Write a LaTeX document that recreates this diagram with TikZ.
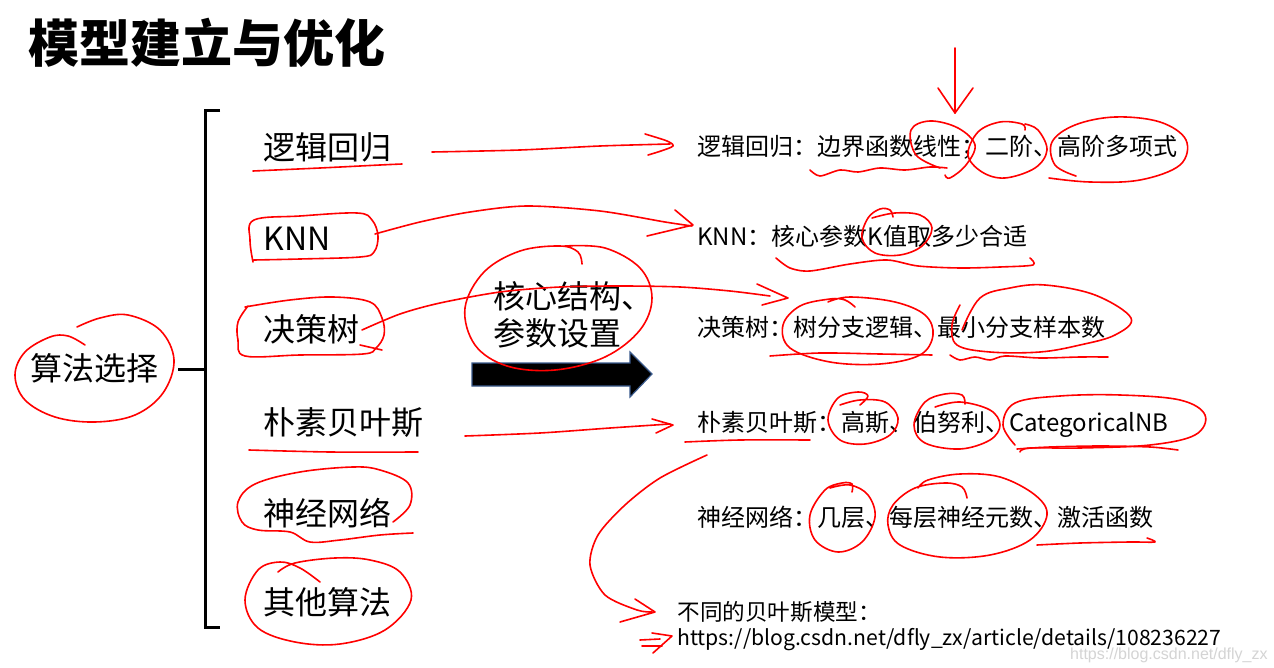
\documentclass[tikz,border=0pt]{standalone}
\usepackage{fontspec}
\setmainfont{Noto Sans CJK SC}
\newfontfamily\wmfont{Liberation Sans}
\definecolor{arrowblue}{HTML}{3A5A8C}
\definecolor{wmgray}{HTML}{D4D4D4}
\begin{document}
\begin{tikzpicture}[x=0.5pt,y=-0.5pt,
  hand/.style={draw=red, line width=0.8pt, line cap=round, line join=round},
  item/.style={anchor=base west, inner sep=0pt, font=\fontsize{16}{19}\selectfont},
  desc/.style={anchor=base west, inner sep=0pt, font=\fontsize{12}{14}\selectfont},
  note/.style={anchor=base west, inner sep=0pt, font=\fontsize{11.3}{13}\selectfont},
  brk/.style={draw=black, line width=1.5pt, line join=miter}]
\fill[white] (0,0) rectangle (1274,668);
\useasboundingbox (0,0) rectangle (1274,668);

% title
\node[anchor=base west, inner sep=0pt, font=\bfseries\fontsize{25.5}{30}\selectfont] (title) at (28,63) {模型建立与优化};

% left part
\node[item] (algo) at (30,380) {算法选择};
\node[item] (lr) at (263,160) {逻辑回归};
\node[item] (knn) at (263,250) {KNN};
\node[item] (dt) at (263,342) {决策树};
\node[item] (nb) at (263,434) {朴素贝叶斯};
\node[item] (nn) at (263,525) {神经网络};
\node[item] (other) at (263,614) {其他算法};

% bracket
\coordinate (btop) at (205,111);
\coordinate (bbot) at (205,627);
\coordinate (bmid) at (205,369);
\draw[brk] (220,111) -- (btop) -- (bbot) -- (220,627);
\draw[brk] (178,369) -- (bmid);

% center
\node[item] (core1) at (493,308) {核心结构、};
\node[item] (core2) at (493,345) {参数设置};
\fill[black, draw=arrowblue, line width=0.6pt] (472,363) -- (630,363) -- (630,352) -- (652,374) -- (630,397) -- (630,386) -- (472,386) -- cycle;

% right column
\node[desc] (d1) at (697,156) {逻辑回归：边界函数线性；二阶、高阶多项式};
\node[desc] (d2) at (697,246) {KNN：核心参数K值取多少合适};
\node[desc] (d3) at (697,336) {决策树：树分支逻辑、最小分支样本数};
\node[desc] (d4) at (697,431) {朴素贝叶斯：高斯、伯努利、CategoricalNB};
\node[desc] (d5) at (697,526) {神经网络：几层、每层神经元数、激活函数};
\node[note] (n1) at (677,620) {不同的贝叶斯模型：};
\node[anchor=base west, inner sep=0pt, font=\fontsize{10.6}{12}\selectfont] (n2) at (677,645) {https://blog.csdn.net/dfly\_zx/article/details/108236227};
\node[anchor=base east, inner sep=0pt, text=wmgray, font=\wmfont\fontsize{8}{9}\selectfont] (wm) at (1268,659) {https://blog.csdn.net/dfly\_zx};

% ---------- red annotations ----------
% 算法选择 loop
\draw[hand] plot[smooth, tension=0.6] coordinates {(85,345) (68,336) (50,337) (25,352) (15,375) (25,400) (55,417) (95,422) (135,415) (163,393) (174,360) (160,330) (128,315) (100,318) (77,327)};
% 逻辑回归 underline + arrow
\draw[hand] plot[smooth] coordinates {(253,171) (320,168) (380,165) (402,164)};
\draw[hand] plot[smooth] coordinates {(432,152) (520,150) (600,146) (670,144)};
\draw[hand] plot[smooth, tension=0.5] coordinates {(645,134) (667,141) (673,146) (661,151) (648,155)};
% KNN loop + arrow
\draw[hand] plot[smooth, tension=0.6] coordinates {(253,262) (250,240) (254,220) (300,216) (357,213) (372,220) (378,236) (374,252) (360,257) (300,259) (254,260)};
\draw[hand] plot[smooth] coordinates {(375,234) (420,222) (470,212) (527,206) (600,211) (665,222) (692,226)};
\draw[hand] (675,210) -- (693,225) -- (647,236);
% 决策树 loop + arrow
\draw[hand] plot[smooth, tension=0.6] coordinates {(245,307) (290,300) (333,297) (370,302) (382,318) (384,335) (376,348) (363,354) (300,355) (245,356) (238,340) (238,322) (248,306)};
\draw[hand] (360,345) -- (382,350);
\draw[hand] plot[smooth] coordinates {(362,330) (400,314) (440,303) (500,292) (560,287) (620,286) (680,287) (730,291) (770,296)};
\draw[hand] (757,284) -- (788,298) -- (762,305);
% 核心结构 ellipse
\draw[hand] plot[smooth, tension=0.6] coordinates {(582,264) (578,252) (560,246) (520,251) (484,272) (465,308) (475,345) (507,366) (555,370) (605,357) (640,330) (652,298) (640,268) (605,248) (565,246)};
% 朴素贝叶斯 underline + arrow
\draw[hand] plot[smooth] coordinates {(249,450) (330,452) (418,452)};
\draw[hand] plot[smooth] coordinates {(465,436) (540,433) (610,428) (670,424)};
\draw[hand] (652,419) -- (673,425) -- (656,433);
% 神经网络 loop
\draw[hand] plot[smooth, tension=0.6] coordinates {(393,522) (410,505) (408,483) (380,470) (353,467) (300,472) (255,484) (238,502) (242,522) (258,530) (290,532) (310,542) (340,540) (380,535) (413,533)};
% 其他算法 loop
\draw[hand] plot[smooth, tension=0.6] coordinates {(320,582) (300,568) (280,562) (258,570) (245,600) (258,628) (295,642) (340,644) (385,630) (411,600) (400,572) (370,560) (335,558) (295,563) (278,572)};

% line 1
\draw[hand] (955,48) -- (955,113);
\draw[hand] (938,88) -- (955,113) -- (973,88);
\draw[hand] plot[smooth] coordinates {(810,170) (820,176) (840,170) (858,172) (880,168) (905,170) (930,167) (947,168)};
\draw[hand] plot[smooth, tension=0.6] coordinates {(940,168) (916,155) (911,130) (930,121) (958,128) (975,145) (966,165) (950,178) (945,175)};
\draw[hand] plot[smooth, tension=0.6] coordinates {(1025,130) (1022,124) (1000,122) (978,132) (968,155) (982,172) (1005,178) (1035,168) (1047,150) (1038,130) (1025,124)};
\draw[hand] plot[smooth, tension=0.6] coordinates {(1076,176) (1055,165) (1052,142) (1075,125) (1115,117) (1160,122) (1186,140) (1180,165) (1140,180) (1090,182) (1049,178)};
% line 2
\draw[hand] plot[smooth, tension=0.6] coordinates {(893,217) (890,210) (880,209) (868,218) (862,238) (875,253) (900,255) (922,246) (932,228) (920,215) (895,213) (872,218)};
\draw[hand] plot[smooth] coordinates {(776,258) (790,268) (810,271) (850,264) (887,260) (918,266) (960,268) (1000,267) (1033,265) (1030,258)};
% line 3
\draw[hand] plot[smooth, tension=0.6] coordinates {(855,307) (845,300) (830,299) (800,306) (783,325) (790,348) (830,362) (880,364) (920,355) (933,335) (925,315) (895,302) (850,297) (828,302)};
\draw[hand] plot[smooth] coordinates {(770,356) (820,353) (880,354) (932,355)};
\draw[hand] plot[smooth, tension=0.6] coordinates {(962,330) (980,298) (1010,288) (1045,285) (1095,295) (1131,318) (1115,335) (1080,345) (1040,352) (990,352) (957,345) (952,325) (960,305)};
\draw[hand] plot[smooth] coordinates {(950,355) (960,360) (975,357) (990,360) (1005,356) (1040,358) (1080,357) (1108,357)};
% line 4
\draw[hand] plot[smooth] coordinates {(685,442) (740,440) (810,440)};
\draw[hand] plot[smooth, tension=0.6] coordinates {(860,405) (868,396) (858,392) (838,398) (828,420) (840,440) (865,444) (890,435) (898,418) (885,402) (860,400) (840,405)};
\draw[hand] plot[smooth, tension=0.6] coordinates {(965,404) (962,395) (945,394) (925,402) (914,425) (925,443) (960,449) (990,440) (1000,425) (990,410) (960,402) (935,407)};
\draw[hand] plot[smooth, tension=0.6] coordinates {(1015,445) (1003,425) (1015,403) (1060,396) (1120,395) (1180,400) (1205,415) (1195,435) (1150,445) (1080,448) (1030,448) (1020,452)};
\draw[hand] plot[smooth] coordinates {(1017,449) (1050,447) (1100,446) (1150,447) (1178,450)};
% line 5
\draw[hand] plot[smooth, tension=0.6] coordinates {(852,492) (852,484) (842,483) (825,490) (810,515) (815,540) (838,552) (862,542) (875,517) (868,495) (850,485) (830,488)};
\draw[hand] plot[smooth, tension=0.6] coordinates {(967,498) (962,487) (945,483) (915,488) (893,505) (888,525) (900,545) (940,557) (990,555) (1030,540) (1047,515) (1035,495) (1000,477) (960,474) (928,480) (918,488)};
\draw[hand] plot[smooth] coordinates {(1037,545) (1080,543) (1130,542) (1155,542) (1147,538)};
% big curved arrow to bayes link
\draw[hand] plot[smooth] coordinates {(707,455) (660,478) (625,505) (598,535) (590,565) (605,595) (637,610) (652,612)};
\draw[hand] (635,599) -- (655,612) -- (620,622);
% double arrow before URL
\draw[hand] (640,640) -- (660,639);
\draw[hand] (642,646) -- (662,646);
\draw[hand] (652,633) -- (672,636) -- (653,653);
\end{tikzpicture}
\end{document}
